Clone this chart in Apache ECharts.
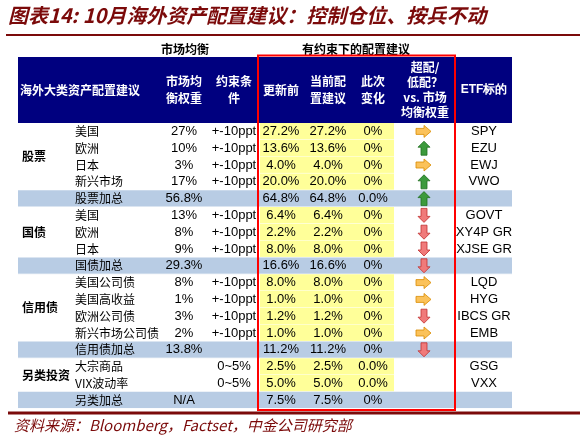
<!DOCTYPE html>
<html><head><meta charset="utf-8">
<script src="https://cdn.jsdelivr.net/npm/echarts@6/dist/echarts.min.js"></script>
<style>html,body{margin:0;padding:0;background:#fff}#c{width:584px;height:444px}</style>
</head><body><div id="c"></div>
<script>
const title = "图表14: 10月海外资产配置建议：控制仓位、按兵不动";
const source = "资料来源：Bloomberg，Factset，中金公司研究部";
const headers = ["海外大类资产配置建议","市场均\n衡权重","约束条\n件","更新前","当前配\n置建议","此次\n变化","超配/\n低配？\nvs. 市场\n均衡权重","ETF标的"];
const groups = [["股票",0,3],["国债",5,7],["信用债",9,12],["另类投资",14,15]];
const rowLabels = ["美国","欧洲","日本","新兴市场","股票加总","美国","欧洲","日本","国债加总","美国公司债","美国高收益","欧洲公司债","新兴市场公司债","信用债加总","大宗商品","VIX波动率","另类加总"];
const isTotal = [0,0,0,0,1,0,0,0,1,0,0,0,0,1,0,0,1];
const marketWeight = ["27%","10%","3%","17%","56.8%","13%","8%","9%","29.3%","8%","1%","3%","2%","13.8%","","","N/A"];
const constraint = ["+-10ppt","+-10ppt","+-10ppt","+-10ppt","","+-10ppt","+-10ppt","+-10ppt","","+-10ppt","+-10ppt","+-10ppt","+-10ppt","","0~5%","0~5%",""];
const before = ["27.2%","13.6%","4.0%","20.0%","64.8%","6.4%","2.2%","8.0%","16.6%","8.0%","1.0%","1.2%","1.0%","11.2%","2.5%","5.0%","7.5%"];
const current = ["27.2%","13.6%","4.0%","20.0%","64.8%","6.4%","2.2%","8.0%","16.6%","8.0%","1.0%","1.2%","1.0%","11.2%","2.5%","5.0%","7.5%"];
const change = ["0%","0%","0%","0%","0.0%","0%","0%","0%","0%","0%","0%","0%","0%","0%","0.0%","0.0%","0%"];
const arrows = ["right","up","right","up","up","down","down","down","down","right","right","down","right","down","","",""];
const etf = ["SPY","EZU","EWJ","VWO","","GOVT","XY4P GR","XJSE GR","","LQD","HYG","IBCS GR","EMB","","GSG","VXX",""];

const chart = echarts.init(document.getElementById('c'));
const L=18,R=512,HT=57,HB=123,RH=16.8;
const colX=[18,158,210,258,304,352,394,456,512];
const cjk='"Noto Sans CJK SC", sans-serif', lat='"Liberation Sans", Arial, sans-serif';
const g=[];
const dark='#7b0a0a';
g.push({type:'text',left:8,top:5,style:{text:title,font:'italic bold 20px '+cjk,fill:dark}});
g.push({type:'line',shape:{x1:6,y1:35,x2:580,y2:35},style:{stroke:dark,lineWidth:2}});
g.push({type:'text',x:185,y:49,style:{text:'市场均衡',font:'bold 12px '+cjk,fill:'#000',textAlign:'center',textVerticalAlign:'middle'}});
g.push({type:'text',x:356,y:49,style:{text:'有约束下的配置建议',font:'bold 12px '+cjk,fill:'#000',textAlign:'center',textVerticalAlign:'middle'}});
g.push({type:'rect',shape:{x:L,y:HT,width:R-L,height:HB-HT},style:{fill:'#00007f'}});
headers.forEach((h,i)=>{
  const cx = i===0 ? 20 : (colX[i]+colX[i+1])/2;
  g.push({type:'text',x:cx,y:(HT+HB)/2,style:{text:h,font:'bold 12px '+(i==7?lat:cjk),fill:'#fff',textAlign:i===0?'left':'center',textVerticalAlign:'middle',lineHeight:i==6?15:17}});
});
rowLabels.forEach((lab,r)=>{
  const y0=HB+r*RH, cy=y0+RH/2;
  if(isTotal[r]) g.push({type:'rect',shape:{x:L,y:y0,width:R-L,height:RH},style:{fill:'#b8cce4'}});
  if(!isTotal[r]) g.push({type:'rect',shape:{x:260,y:y0,width:134,height:RH},style:{fill:'#ffff99'}});
  g.push({type:'line',shape:{x1:L,y1:y0+RH,x2:R,y2:y0+RH},style:{stroke:'#fff',lineWidth:1}});
  g.push({type:'text',x:75,y:cy,style:{text:lab,font:'12px '+cjk,fill:'#000',textVerticalAlign:'middle'}});
  const vals=[marketWeight[r],constraint[r],before[r],current[r],change[r]];
  vals.forEach((v,k)=>{
    g.push({type:'text',x:(colX[k+1]+colX[k+2])/2,y:cy,style:{text:v,font:'13px '+lat,fill:'#000',textAlign:'center',textVerticalAlign:'middle'}});
  });
  g.push({type:'text',x:484,y:cy,style:{text:etf[r],font:'13px '+lat,fill:'#000',textAlign:'center',textVerticalAlign:'middle'}});
  const a=arrows[r], ax=424;
  if(a==='right') g.push({type:'polygon',shape:{points:[[ax-8,cy-3],[ax,cy-3],[ax,cy-6],[ax+7,cy],[ax,cy+6],[ax,cy+3],[ax-8,cy+3]]},style:{fill:'#fbc25a',stroke:'#d98c00',lineWidth:0.8}});
  if(a==='up') g.push({type:'polygon',shape:{points:[[ax,cy-7],[ax+6,cy-1],[ax+3,cy-1],[ax+3,cy+7],[ax-3,cy+7],[ax-3,cy-1],[ax-6,cy-1]]},style:{fill:'#3c9a3c',stroke:'#1f6f1f',lineWidth:0.8}});
  if(a==='down') g.push({type:'polygon',shape:{points:[[ax,cy+7],[ax+6,cy+1],[ax+3,cy+1],[ax+3,cy-7],[ax-3,cy-7],[ax-3,cy+1],[ax-6,cy+1]]},style:{fill:'#f07a7a',stroke:'#c03030',lineWidth:0.8}});
});
groups.forEach(([n,a,b])=>{
  g.push({type:'text',x:22,y:HB+((a+b)/2+0.5)*RH,style:{text:n,font:'bold 12px '+cjk,fill:'#000',textVerticalAlign:'middle'}});
});
g.push({type:'line',shape:{x1:455,y1:HT,x2:455,y2:HB+17*RH},style:{stroke:'#fff',lineWidth:1.5}});
g.push({type:'rect',shape:{x:258,y:55.5,width:197,height:HB+17*RH-54},style:{fill:null,stroke:'#ff0000',lineWidth:2}});
g.push({type:'line',shape:{x1:8,y1:413,x2:580,y2:413},style:{stroke:dark,lineWidth:3}});
g.push({type:'text',left:14,top:418,style:{text:source,font:'italic 15px '+cjk,fill:dark}});
chart.setOption({animation:false,graphic:g});
</script></body></html>
